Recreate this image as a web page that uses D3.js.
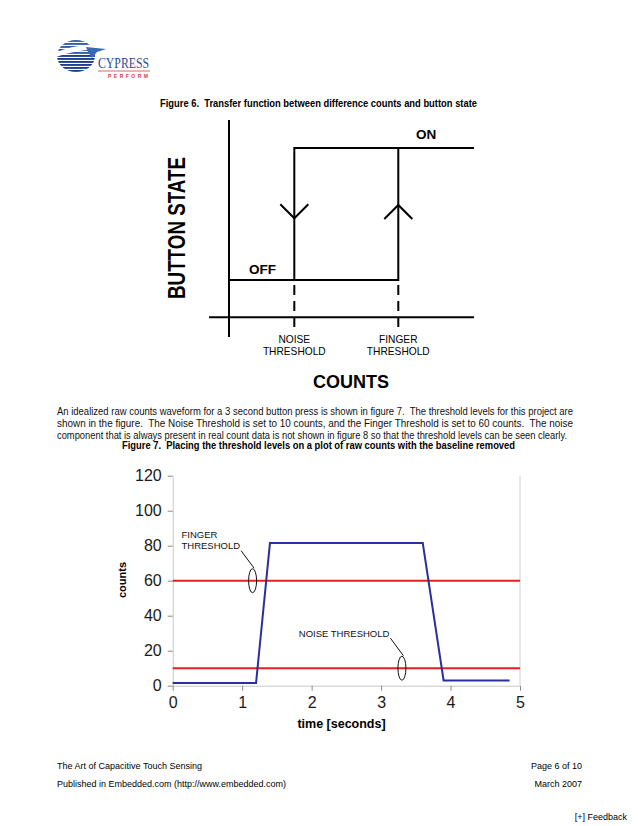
<!DOCTYPE html>
<html>
<head>
<meta charset="utf-8">
<script src="https://cdn.jsdelivr.net/npm/d3@7"></script>
<style>
body { margin: 0; background: #fff; }
svg { display: block; }
text { font-family: "Liberation Sans", Arial, sans-serif; white-space: pre; }
</style>
</head>
<body>
<div id="page"></div>
<script>
// ---- figure 7 data (raw counts, baseline removed)
var timeS = [0, 1.2, 1.4, 3.6, 3.9, 4.85];
var rawCounts = [1.5, 1.5, 81.5, 81.5, 3, 3];
var thresholdNames = [["FINGER", "THRESHOLD"], ["NOISE THRESHOLD"]];
var thresholdValues = [60, 10];
var calloutTimes = [1.15, 3.3];
var countTicks = [0, 20, 40, 60, 80, 100, 120];
var timeTicks = [0, 1, 2, 3, 4, 5];

// ---- figure 6 data (schematic transfer function)
var buttonStates = ["OFF", "ON"];
var switchCounts = [10, 60];            // noise, finger
var switchLabels = [["NOISE", "THRESHOLD"], ["FINGER", "THRESHOLD"]];
var countRange = [-21.4, 96.4];

var paragraph = [
    "An idealized raw counts waveform for a 3 second button press is shown in figure 7.  The threshold levels for this project are",
    "shown in the figure.  The Noise Threshold is set to 10 counts, and the Finger Threshold is set to 60 counts.  The noise",
    "component that is always present in real count data is not shown in figure 8 so that the threshold levels can be seen clearly."
];

var width = 638, height = 826;

var svg = d3.select("#page")
    .append("svg")
    .attr("width", width)
    .attr("height", height);

// ---------- logo
var logo = svg.append("g");
logo.append("clipPath").attr("id", "globe")
    .append("ellipse").attr("cx", 76).attr("cy", 56).attr("rx", 19).attr("ry", 16);
var stripes = logo.append("g").attr("clip-path", "url(#globe)");
d3.range(11).forEach(function(i) {
    stripes.append("rect")
        .attr("x", 55).attr("y", 40 + i * 3)
        .attr("width", 45).attr("height", 1.9)
        .attr("fill", i < 5 ? "#2f5fae" : "#1d3f8e");
});
logo.append("path")
    .attr("d", "M56,53 Q75,43 101,46 L101,49 Q79,49 56,57 Z")
    .attr("fill", "#fff");
logo.append("path")
    .attr("d", "M86,47 L106,49 L97,52 L92,58 L88,52 Z")
    .attr("fill", "#3a68b4");
logo.append("text")
    .attr("x", 98).attr("y", 68)
    .attr("textLength", 51).attr("lengthAdjust", "spacingAndGlyphs")
    .style("font-family", "'Liberation Serif', 'Times New Roman', serif")
    .attr("font-size", 15)
    .attr("fill", "#2a4a9a")
    .text("CYPRESS");
logo.append("line")
    .attr("x1", 98).attr("x2", 150).attr("y1", 71).attr("y2", 71)
    .attr("stroke", "#d84040").attr("stroke-width", 0.8);
logo.append("text")
    .attr("x", 108).attr("y", 78)
    .attr("textLength", 40).attr("lengthAdjust", "spacing")
    .attr("font-size", 5).attr("font-weight", "bold")
    .attr("fill", "#d84040")
    .text("PERFORM");

// ---------- captions
function caption(txt, y, len) {
    svg.append("text")
        .attr("x", 318.5).attr("y", y)
        .attr("text-anchor", "middle")
        .attr("font-size", 10).attr("font-weight", "bold")
        .attr("textLength", len).attr("lengthAdjust", "spacingAndGlyphs")
        .text(txt);
}
caption("Figure 6.  Transfer function between difference counts and button state", 107, 317);
caption("Figure 7.  Placing the threshold levels on a plot of raw counts with the baseline removed", 449, 393);

// ---------- figure 6
var f6 = svg.append("g");
var x6 = d3.scaleLinear().domain(countRange).range([229, 474]);
var y6 = d3.scalePoint().domain(buttonStates).range([280, 148]);
var bottom6 = 317.3;

f6.append("line")
    .attr("x1", x6(countRange[0])).attr("x2", x6(countRange[0]))
    .attr("y1", 120).attr("y2", 337)
    .attr("stroke", "#000").attr("stroke-width", 2);
f6.append("line")
    .attr("x1", x6(countRange[0]) - 20).attr("x2", x6(countRange[1]))
    .attr("y1", bottom6).attr("y2", bottom6)
    .attr("stroke", "#000").attr("stroke-width", 2);

// hysteresis loop
f6.append("path")
    .attr("d", d3.line()([
        [x6(countRange[0]), y6("OFF")],
        [x6(switchCounts[1]), y6("OFF")],
        [x6(switchCounts[1]), y6("ON")]
    ]))
    .attr("fill", "none").attr("stroke", "#000").attr("stroke-width", 2);
f6.append("path")
    .attr("d", d3.line()([
        [x6(countRange[1]), y6("ON")],
        [x6(switchCounts[0]), y6("ON")],
        [x6(switchCounts[0]), y6("OFF")]
    ]))
    .attr("fill", "none").attr("stroke", "#000").attr("stroke-width", 2);

// dashed drop lines and labels
switchCounts.forEach(function(c, i) {
    f6.append("line")
        .attr("x1", x6(c)).attr("x2", x6(c))
        .attr("y1", 285).attr("y2", 328)
        .attr("stroke", "#000").attr("stroke-width", 2)
        .attr("stroke-dasharray", "10,6");
    f6.selectAll(null)
        .data(switchLabels[i]).enter()
        .append("text")
        .attr("x", x6(c))
        .attr("y", function(d, j) { return 343 + j * 12.3; })
        .attr("text-anchor", "middle")
        .attr("font-size", 10.2)
        .text(function(d) { return d; });
});

// arrow heads (down on noise, up on finger)
var a = 14;
f6.append("path")
    .attr("d", d3.line()([[x6(switchCounts[0]) - a, 204.3], [x6(switchCounts[0]), 218.3], [x6(switchCounts[0]) + a, 204.3]]))
    .attr("fill", "none").attr("stroke", "#000").attr("stroke-width", 2);
f6.append("path")
    .attr("d", d3.line()([[x6(switchCounts[1]) - a, 219], [x6(switchCounts[1]), 205], [x6(switchCounts[1]) + a, 219]]))
    .attr("fill", "none").attr("stroke", "#000").attr("stroke-width", 2);

f6.append("text")
    .attr("x", 426).attr("y", y6("ON") - 9.5)
    .attr("text-anchor", "middle")
    .attr("font-size", 13.5).attr("font-weight", "bold")
    .text("ON");
f6.append("text")
    .attr("x", 249).attr("y", y6("OFF") - 6)
    .attr("font-size", 13.5).attr("font-weight", "bold")
    .text("OFF");

f6.append("text")
    .attr("transform", "translate(185,228) rotate(-90)")
    .attr("text-anchor", "middle")
    .attr("font-size", 23).attr("font-weight", "bold")
    .attr("textLength", 142).attr("lengthAdjust", "spacingAndGlyphs")
    .text("BUTTON STATE");
f6.append("text")
    .attr("x", 351).attr("y", 388.3)
    .attr("text-anchor", "middle")
    .attr("font-size", 18).attr("font-weight", "bold")
    .text("COUNTS");

// ---------- paragraph
svg.selectAll(".para")
    .data(paragraph).enter()
    .append("text")
    .attr("class", "para")
    .attr("x", 57)
    .attr("y", function(d, i) { return 415 + i * 12; })
    .attr("font-size", 10)
    .attr("textLength", function(d, i) { return i < 2 ? 516 : 510; })
    .attr("lengthAdjust", "spacingAndGlyphs")
    .attr("fill", "#111")
    .text(function(d) { return d; });

// ---------- figure 7
var f7 = svg.append("g");
var x7 = d3.scaleLinear().domain([0, 5]).range([172.7, 520]);
var y7 = d3.scaleLinear().domain([0, 120]).range([685.7, 475.7]);

var yAxis = f7.append("g")
    .attr("transform", "translate(" + x7(0) + ",0)")
    .call(d3.axisLeft(y7).tickValues(countTicks).tickFormat(d3.format("d"))
        .tickSize(5).tickSizeOuter(0).tickPadding(6));
var xAxis = f7.append("g")
    .attr("transform", "translate(0," + y7(0) + ")")
    .call(d3.axisBottom(x7).tickValues(timeTicks).tickFormat(d3.format("d"))
        .tickSize(5).tickSizeOuter(0).tickPadding(6));
[yAxis, xAxis].forEach(function(ax) {
    ax.select(".domain").attr("stroke", "#c8c8c8");
    ax.selectAll(".tick line").attr("stroke", "#888");
    ax.selectAll(".tick text")
        .attr("font-size", 16).attr("fill", "#1a1a1a")
        .style("font-family", "'Liberation Sans', Arial, sans-serif");
});
f7.append("line")
    .attr("x1", x7(5)).attr("x2", x7(5))
    .attr("y1", y7(120)).attr("y2", y7(0))
    .attr("stroke", "#d0d0d0");

f7.selectAll(".thr")
    .data(thresholdValues).enter()
    .append("line")
    .attr("class", "thr")
    .attr("x1", x7(0)).attr("x2", x7(5))
    .attr("y1", function(d) { return y7(d); })
    .attr("y2", function(d) { return y7(d); })
    .attr("stroke", "#ee1c1c").attr("stroke-width", 2);

f7.append("path")
    .datum(timeS.map(function(t, i) { return [t, rawCounts[i]]; }))
    .attr("d", d3.line().x(function(d) { return x7(d[0]); }).y(function(d) { return y7(d[1]); }))
    .attr("fill", "none").attr("stroke", "#2b2f9e").attr("stroke-width", 2);

// callouts
thresholdValues.forEach(function(v, i) {
    var cx = x7(calloutTimes[i]), cy = y7(v);
    f7.append("ellipse")
        .attr("cx", cx).attr("cy", cy).attr("rx", 4).attr("ry", 12)
        .attr("fill", "none").attr("stroke", "#111").attr("stroke-width", 1);
    f7.append("line")
        .attr("x1", cx + 1.5).attr("y1", cy - 12.5)
        .attr("x2", cx - 11.5).attr("y2", cy - 30)
        .attr("stroke", "#111").attr("stroke-width", 1);
    var lines = thresholdNames[i];
    var n = lines.length;
    var last = f7.append("text")
        .attr("x", cx - 12.5).attr("y", cy - 31.5)
        .attr("text-anchor", "end")
        .attr("font-size", 9.5).attr("fill", "#111")
        .text(lines[n - 1]);
    if (n > 1) {
        var left = cx - 12.5 - last.node().getComputedTextLength();
        f7.append("text")
            .attr("x", left).attr("y", cy - 43)
            .attr("font-size", 9.5).attr("fill", "#111")
            .text(lines[0]);
    }
});

f7.append("text")
    .attr("transform", "translate(126,580) rotate(-90)")
    .attr("text-anchor", "middle")
    .attr("font-size", 11).attr("font-weight", "bold")
    .text("counts");
f7.append("text")
    .attr("x", 341.5).attr("y", 728)
    .attr("text-anchor", "middle")
    .attr("font-size", 12.5).attr("font-weight", "bold")
    .text("time [seconds]");

// ---------- footer
var footer = [
    ["The Art of Capacitive Touch Sensing", "Page 6 of 10", 769],
    ["Published in Embedded.com (http://www.embedded.com)", "March 2007", 787]
];
footer.forEach(function(f) {
    svg.append("text").attr("x", 57).attr("y", f[2]).attr("font-size", 9).text(f[0]);
    svg.append("text").attr("x", 582).attr("y", f[2]).attr("font-size", 9)
        .attr("text-anchor", "end").text(f[1]);
});
svg.append("text").attr("x", 627).attr("y", 820).attr("font-size", 9)
    .attr("text-anchor", "end").text("[+] Feedback");
</script>
</body>
</html>
